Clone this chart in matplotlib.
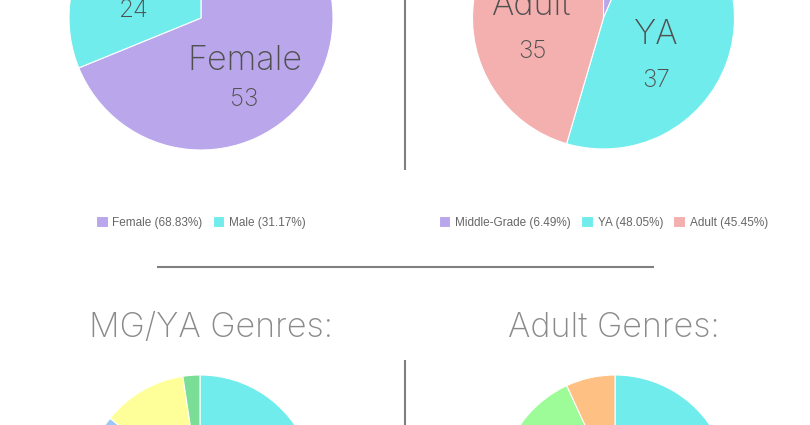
import matplotlib
matplotlib.use("Agg")
import matplotlib.pyplot as plt
from matplotlib import font_manager

W, H = 810, 425

# top row: who wrote it / what age group
gender_labels = ["Female", "Male"]
gender_counts = [53, 24]
age_labels = ["Middle-Grade", "YA", "Adult"]
age_counts = [5, 37, 35]

# bottom row, only the top of each pie is in frame
mgya_labels = ["Fantasy", "Contemporary", "Sci-Fi", "Mystery", "Romance", "Historical"]
mgya_counts = [16, 9, 6, 5, 5, 1]
adult_labels = ["Fantasy", "Literary", "Thriller", "Romance", "Sci-Fi", "Historical"]
adult_counts = [10, 6, 4, 3, 4, 2]

PURPLE = "#b9a6eb"
CYAN = "#70ecec"
PINK = "#f4afaf"
YELLOW = "#ffff99"
GREEN = "#7bde96"
BLUE = "#9cc9f3"
ORANGE = "#ffc083"
LIME = "#9dfb98"
LINE = "#7f7f7f"


def _weight(f):
    w = f.weight
    if isinstance(w, str):
        w = font_manager.weight_dict.get(w, 400)
    return int(w)


def thin_font():
    # lightest usable face: the original uses a hairline web font
    fonts = [f for f in font_manager.fontManager.ttflist if f.style == "normal"]
    for target in (200, 100, 300):
        for name in ["Inter", "Roboto", "Lato", "Open Sans", "Noto Sans", "DejaVu Sans"]:
            for f in fonts:
                if f.name == name and _weight(f) == target:
                    return f.fname
    return None


THIN_FILE = thin_font()


def thin(size):
    if THIN_FILE:
        return font_manager.FontProperties(fname=THIN_FILE, size=size)
    return font_manager.FontProperties(family="DejaVu Sans", weight="light", size=size)


def py(y):
    return H - y


fig = plt.figure(figsize=(W / 100, H / 100), dpi=100)
ax = fig.add_axes([0, 0, 1, 1])

edge = dict(edgecolor="white", linewidth=0.8)
g_wedges, _ = ax.pie(gender_counts, colors=[PURPLE, CYAN], startangle=90, counterclock=False,
                     center=(201, py(18)), radius=132, wedgeprops=edge)
a_wedges, _ = ax.pie(age_counts, colors=[PURPLE, CYAN, PINK], startangle=90, counterclock=False,
                     center=(603.5, py(18)), radius=131, wedgeprops=edge)
ax.pie(mgya_counts, colors=[CYAN, PINK, PURPLE, BLUE, YELLOW, GREEN], startangle=90,
       counterclock=False, center=(200, py(490)), radius=115, wedgeprops=edge)
ax.pie(adult_counts, colors=[CYAN, PINK, PURPLE, YELLOW, LIME, ORANGE], startangle=90,
       counterclock=False, center=(615, py(490)), radius=115, wedgeprops=edge)

# slice labels: name on top, count under it
TXT = "#505050"
slice_text = [
    ("Female", 53, 244.5, 70, 106),
    ("Male", 24, 133.5, -23, 16.7),
    ("YA", 37, 656.5, 44.3, 86.7),
    ("Adult", 35, 532, 15, 58.3),
]
for name, val, x, y_name, y_val in slice_text:
    ax.text(x, py(y_name), name, ha="center", va="baseline", color=TXT, fontproperties=thin(24.5))
    ax.text(x, py(y_val), str(val), ha="center", va="baseline", color=TXT, fontproperties=thin(17.5))


# legends
def pct_labels(labels, counts):
    total = sum(counts)
    return [f"{l} ({c / total * 100:.2f}%)" for l, c in zip(labels, counts)]


leg_kw = dict(loc="center", ncol=3, frameon=False, handlelength=0.98, handleheight=0.98,
              handletextpad=0.42, columnspacing=0.85, labelcolor="#666666",
              prop=font_manager.FontProperties(family="Liberation Sans", size=8.5),
              bbox_transform=ax.transData)
leg1 = ax.legend(g_wedges, pct_labels(gender_labels, gender_counts),
                 bbox_to_anchor=(201, py(222.5)), **leg_kw)
ax.add_artist(leg1)
ax.legend(a_wedges, pct_labels(age_labels, age_counts),
          bbox_to_anchor=(603.5, py(222.5)), **leg_kw)

# separators
ax.plot([405, 405], [py(0), py(170)], color=LINE, lw=1.5, solid_capstyle="butt")
ax.plot([157, 654], [py(267), py(267)], color=LINE, lw=1.5, solid_capstyle="butt")
ax.plot([405, 405], [py(360), py(425)], color=LINE, lw=1.5, solid_capstyle="butt")

# section titles
ax.text(211, py(336.7), "MG/YA Genres:", ha="center", va="baseline", color="#8a8a8a",
        fontproperties=thin(24.5))
ax.text(614, py(336.7), "Adult Genres:", ha="center", va="baseline", color="#8a8a8a",
        fontproperties=thin(24.5))

ax.set_xlim(0, W)
ax.set_ylim(0, H)
ax.set_aspect("equal")
ax.axis("off")

fig.savefig("out.png", dpi=100)
